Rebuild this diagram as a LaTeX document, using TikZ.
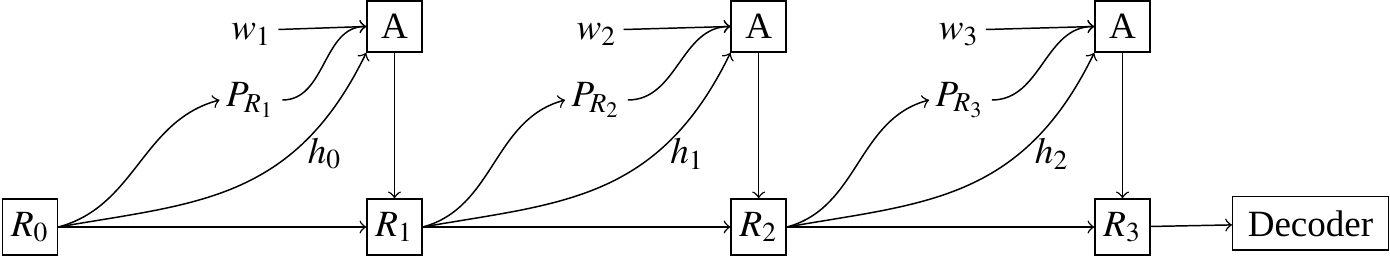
\documentclass[tikz,border=0pt]{standalone}
\usepackage{mathptmx}
\usepackage{fontspec}
\setmainfont{Liberation Serif}
\begin{document}
\begin{tikzpicture}[x=0.27pt,y=0.27pt,
  box/.style={draw, line width=0.4pt, inner sep=0pt, minimum width=14.85pt},
  abox/.style={box, minimum height=13.77pt},
  rbox/.style={box, minimum height=15.12pt},
  decbox/.style={box, minimum width=42pt, minimum height=14.4pt},
  lbl/.style={inner xsep=1.6pt, inner ysep=0pt},
  wlbl/.style={lbl, text height=7pt, text depth=1.4pt},
  arr/.style={->, line width=0.4pt}]
\useasboundingbox (0,0) rectangle (1390,260);
% boxes
\node[rbox] (R0) at (30.2,33) {$R_0$};
\node[rbox] (R1) at (394.5,33) {$R_1$};
\node[rbox] (R2) at (758.7,33) {$R_2$};
\node[rbox] (R3) at (1122.5,33) {$R_3$};
\node[abox] (A1) at (394.5,233.5) {A};
\node[abox] (A2) at (758.7,233.5) {A};
\node[abox] (A3) at (1122.5,233.5) {A};
\node[decbox] (Dec) at (1310.5,36.6) {Decoder};
% labels
\node[wlbl] (w1) at (251.5,230.5) {$w_1$};
\node[wlbl] (w2) at (596.7,230.5) {$w_2$};
\node[wlbl] (w3) at (959,230.5) {$w_3$};
\node[lbl] (P1) at (251,160) {$P_{R_1}$};
\node[lbl] (P2) at (596.5,160) {$P_{R_2}$};
\node[lbl] (P3) at (960.5,160) {$P_{R_3}$};
\node[lbl] (h0) at (325,106.5) {$h_0$};
\node[lbl] (h1) at (687.5,106.5) {$h_1$};
\node[lbl] (h2) at (1052,106.5) {$h_2$};
% connectors
\foreach \i/\j in {0/1,1/2,2/3} {
  \draw[arr] (R\i.east) -- (R\j.west);
  \draw[arr] (R\i.east) to[out=15,in=195] (P\j.west);
  \draw[arr] (R\i.east) to[out=10,in=244,in looseness=1.2] (A\j.south west);
  \draw[arr] (P\j.east) to[out=0,in=180] (A\j.west);
  \draw[arr] (w\j.east) -- (A\j.west);
  \draw[arr] (A\j.south) -- (R\j.north);
}
\draw[arr] (R3) -- (Dec);
\end{tikzpicture}
\end{document}
